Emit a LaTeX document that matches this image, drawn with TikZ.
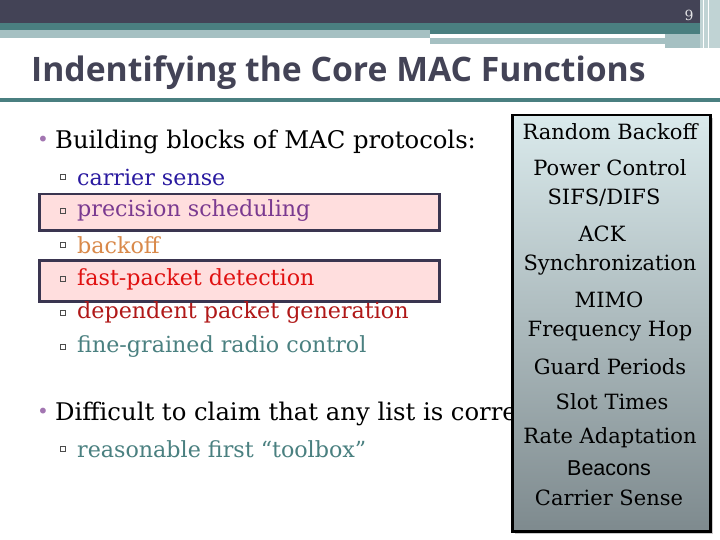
\documentclass[tikz,border=0pt]{standalone}
\usepackage{fontspec}
\setmainfont{DejaVu Serif}
\newfontfamily\titlefont{Open Sans}
\newfontfamily\arialf{Liberation Sans}
\newfontfamily\bulf{DejaVu Sans}
\usetikzlibrary{shadows}
\definecolor{hdr}{HTML}{434356}
\definecolor{teal}{HTML}{4A7F80}
\definecolor{lteal}{HTML}{A5C0C2}
\definecolor{pinkf}{HTML}{FFDEDE}
\definecolor{pinkd}{HTML}{3A3550}
\definecolor{cA}{HTML}{2A1AA0}
\definecolor{cB}{HTML}{7A3A90}
\definecolor{cC}{HTML}{D9894A}
\definecolor{cD}{HTML}{E01010}
\definecolor{cE}{HTML}{B01818}
\definecolor{cF}{HTML}{4A8080}
\definecolor{boxtop}{HTML}{DAEAEC}
\definecolor{boxbot}{HTML}{7E8A8E}
\begin{document}
\begin{tikzpicture}[x=1pt,y=-1pt,
  main/.style={anchor=west,font=\fontsize{24.3}{26}\selectfont,inner sep=0pt},
  sub/.style={anchor=west,font=\fontsize{22.2}{24}\selectfont,inner sep=0pt},
  sq/.style={draw=black!70,line width=0.5pt,minimum size=5pt,inner sep=0pt},
  item/.style={font=\fontsize{21}{22}\selectfont,inner sep=0pt},
  hl/.style={draw=pinkd,line width=2.5pt,fill=pinkf}]
\useasboundingbox (0,0) rectangle (720,540);
\fill[white] (0,0) rectangle (720,540);
% header
\fill[hdr] (0,0) rectangle (720,23);
\fill[teal] (0,23) rectangle (700,34);
\fill[lteal] (0,30) rectangle (430,38);
\fill[lteal] (430,38) rectangle (665,44);
\fill[lteal] (665,34) rectangle (700,48);
\fill[lteal!70] (700,0) rectangle (720,48);
\draw[white,line width=1pt] (703,0) -- (703,48) (708,0)--(708,48);
\node[text=white!85!hdr,font=\fontsize{14}{16}\selectfont] (pg) at (689,15) {9};
\node[anchor=west,text=hdr,font=\titlefont\bfseries\fontsize{33.7}{36}\selectfont,inner sep=0pt] (title) at (31,73) {Indentifying the Core MAC Functions};
\fill[teal] (0,98) rectangle (720,102);
% highlight boxes
\node[hl,minimum width=400pt,minimum height=36pt,anchor=north west,inner sep=0pt] (h1) at (38,193) {};
\node[hl,minimum width=400pt,minimum height=41pt,anchor=north west,inner sep=0pt] (h2) at (38,259) {};
% bullets
\node[text=cB!70,font=\bulf\fontsize{20}{20}\selectfont] (b1) at (43,141) {•};
\node[main] (t1) at (55,142) {Building blocks of MAC protocols:};
\foreach \y/\c/\t [count=\i] in {177/cA/carrier sense,211/cB/precision scheduling,245/cC/backoff,279/cD/fast-packet detection,313/cE/dependent packet generation,347/cF/fine-grained radio control}{
  \node[sq] (s\i) at (63,\y) {};
  \node[sub,text=\c] (u\i) at (77,\y) {\t};
}
\node[text=cB!70,font=\bulf\fontsize{20}{20}\selectfont] (b2) at (43,413) {•};
\node[main] (t2) at (55,414) {Difficult to claim that any list is correct};
\node[sq] (s7) at (63,449) {};
\node[sub,text=cF] (u7) at (77,449) {reasonable first “toolbox”};
% right box
\node[draw=black,line width=2.5pt,top color=boxtop,bottom color=boxbot,minimum width=198pt,minimum height=416pt,anchor=north west,inner sep=0pt,drop shadow={shadow xshift=3pt,shadow yshift=-3pt,fill=black!40}] (rb) at (511,114) {};
\foreach \y/\x/\t [count=\i] in {132/610/{Random Backoff},168/610/{Power Control},198/604/{SIFS/DIFS},234/602/{ACK},265/610/{Synchronization},300/609/{MIMO},331/610/{Frequency Hop},367/610/{Guard Periods},402/612/{Slot Times},438/610/{Rate Adaptation}}{
  \node[item] (r\i) at (\x,\y) {\t};
}
\node[item,font=\arialf\fontsize{21.5}{23}\selectfont] (r11) at (609,468) {Beacons};
\node[item] (r12) at (609,498) {Carrier Sense};
\end{tikzpicture}
\end{document}
